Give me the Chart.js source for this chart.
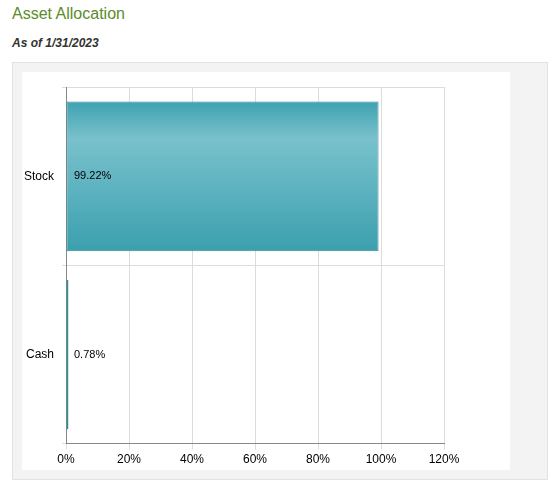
<!DOCTYPE html>
<html><head><meta charset="utf-8">
<script src="https://cdn.jsdelivr.net/npm/chart.js@4"></script>
<style>
body{margin:0;background:#fff;font-family:Arial,"Liberation Sans",sans-serif;}
#t{position:absolute;left:12px;top:5px;font-size:16px;color:#5b8c2a;}
#s{position:absolute;left:12px;top:36px;font-size:12px;font-weight:bold;font-style:italic;color:#333;}
#box{position:absolute;left:12px;top:62px;width:536px;height:418px;background:#f3f3f3;border:1px solid #e2e2e2;box-sizing:border-box;}
#in{position:absolute;left:22px;top:72px;width:488px;height:398px;background:#fff;}
</style></head><body>
<div id="t">Asset Allocation</div>
<div id="s">As of 1/31/2023</div>
<div id="box"></div>
<div id="in"><canvas id="c" width="488" height="398"></canvas></div>
<script>
const categories=["Stock","Cash"];
const values=[99.22,0.78];
const tickLabels=["0%","20%","40%","60%","80%","100%","120%"];
const labelPlugin={id:'lbl',afterDatasetsDraw(ch){const ctx=ch.ctx,x=ch.scales.x,y=ch.scales.y;ctx.save();ctx.font='11px Arial';ctx.fillStyle='#000';ctx.textBaseline='middle';values.forEach((v,i)=>{ctx.fillText(v.toFixed(2)+'%',x.getPixelForValue(0)+8,y.getPixelForValue(i));});ctx.restore();}};
new Chart(document.getElementById('c'),{type:'bar',
data:{labels:categories,datasets:[{data:values,
backgroundColor:(c)=>{const a=c.chart.chartArea;if(!a)return '#4aa9b7';const y=c.chart.scales.y;const half=(a.bottom-a.top)/categories.length*0.84/2;const cy=y.getPixelForValue(c.dataIndex);const g=c.chart.ctx.createLinearGradient(0,cy-half,0,cy+half);g.addColorStop(0,'#3ea2b1');g.addColorStop(0.25,'#79c1cc');g.addColorStop(0.6,'#5cb2bf');g.addColorStop(1,'#3c9fae');return g;},
borderColor:'#2f8a97',borderWidth:1,borderSkipped:false,categoryPercentage:0.84,barPercentage:1}]},
options:{indexAxis:'y',responsive:false,animation:false,devicePixelRatio:1,
layout:{padding:{top:5,right:66,left:0,bottom:0}},
plugins:{legend:{display:false},tooltip:{enabled:false}},
scales:{x:{min:0,max:120,ticks:{stepSize:20,color:'#000',font:{size:12,family:'Arial'},callback:(v,i)=>tickLabels[i]},grid:{color:'#dcdcdc',drawTicks:true,tickLength:6},border:{color:'#888'}},
y:{ticks:{color:'#000',font:{size:12,family:'Arial'},padding:8},grid:{color:'#dcdcdc',offset:true,tickLength:4},border:{color:'#888'},afterFit(s){s.width=44;}}}},
plugins:[labelPlugin]});
</script>
</body></html>
